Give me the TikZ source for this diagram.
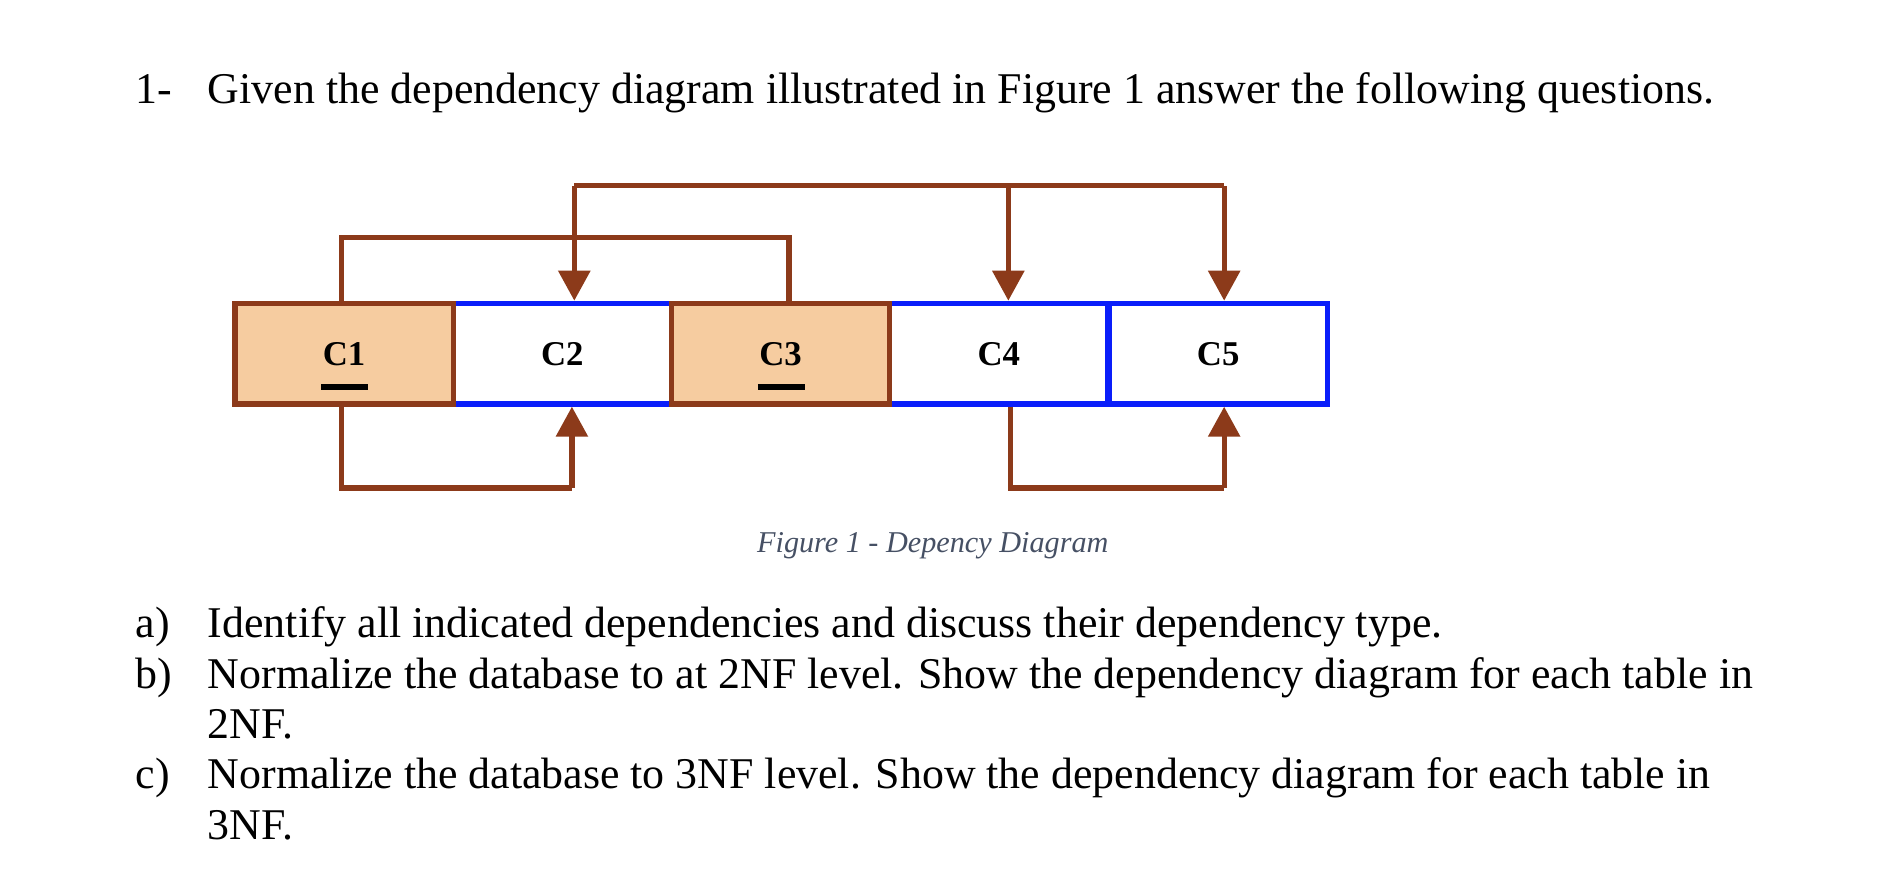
\documentclass[tikz,border=0pt]{standalone}
\usepackage{fontspec}
\setmainfont{Liberation Serif}
\usetikzlibrary{arrows.meta}
\definecolor{dep}{RGB}{140,58,26}
\definecolor{keyfill}{RGB}{246,204,160}
\definecolor{attr}{RGB}{10,30,250}
\definecolor{cap}{RGB}{70,80,100}
\begin{document}
\begin{tikzpicture}[x=0.5pt,y=-0.5pt,
  box/.style={draw,line width=2.2pt,minimum width=91pt,minimum height=42pt,inner sep=0pt,font=\fontsize{14.5}{16}\selectfont\bfseries},
  key/.style={box,draw=dep,fill=keyfill},
  att/.style={box,draw=attr,fill=white},
  conn/.style={draw=dep,line width=2.2pt},
  arr/.style={conn,-{Triangle[length=12.5pt,width=13pt]}},
  txt/.style={anchor=base west,font=\fontsize{18.3}{22}\selectfont,inner sep=0pt}]
\useasboundingbox (0,0) rectangle (1568,744);
\node[txt] (t0) at (113,86) {1-};
\node[txt] (t1) at (173,86) {Given the dependency diagram illustrated in Figure 1 answer the following questions.};
\node[att] (c2) at (469,295) {C2};
\node[att] (c4) at (833,295) {C4};
\node[att] (c5) at (1016,295) {C5};
\node[key] (c1) at (287,295) {C1};
\node[key] (c3) at (651,295) {C3};
\draw[line width=2.4pt] (268,323) -- (307,323);
\draw[line width=2.4pt] (632,323) -- (671,323);
% top dependencies
\coordinate (ta) at (479,155);
\coordinate (tb) at (1021,155);
\draw[conn] (ta) -- (tb);
\draw[arr] (ta) -- ([xshift=5pt]c2.north);
\draw[arr] (841,155) -- ([xshift=4pt]c4.north);
\draw[arr] (tb) -- ([xshift=2.5pt]c5.north);
\draw[conn] ([xshift=-1pt]c1.north) |- (658,198) -- ([xshift=3.5pt]c3.north);
% bottom dependencies
\draw[conn] ([xshift=-1pt]c1.south) |- (477,407);
\draw[arr] (477,407) -- ([xshift=4pt]c2.south);
\draw[conn] ([xshift=5pt]c4.south) |- (1021,407);
\draw[arr] (1021,407) -- ([xshift=2.5pt]c5.south);
\node[font=\fontsize{12.6}{15}\selectfont\itshape,text=cap] (cp) at (778,455) {Figure 1 - Depency Diagram};
\node[txt] (a1) at (113,532) {a)};
\node[txt] (a2) at (173,532) {Identify all indicated dependencies and discuss their dependency type.};
\node[txt] (b1) at (113,574) {b)};
\node[txt] (b2) at (173,574) {Normalize the database to at 2NF level. Show the dependency diagram for each table in};
\node[txt] (b3) at (173,616) {2NF.};
\node[txt] (c1t) at (113,658) {c)};
\node[txt] (c2t) at (173,658) {Normalize the database to 3NF level. Show the dependency diagram for each table in};
\node[txt] (c3t) at (173,700) {3NF.};
\end{tikzpicture}
\end{document}
